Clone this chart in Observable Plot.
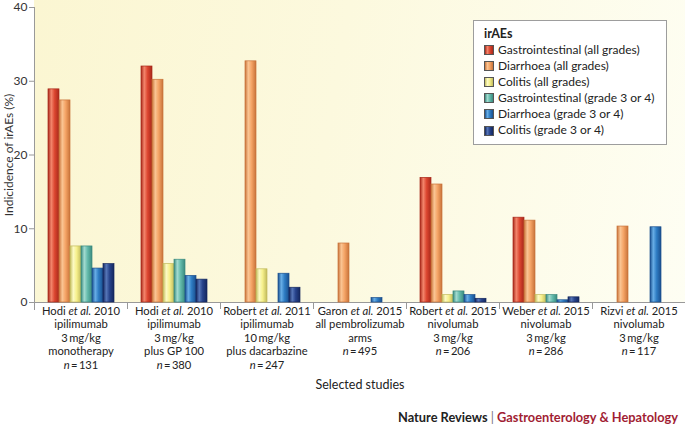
<!DOCTYPE html>
<html><head><meta charset="utf-8">
<script src="https://cdn.jsdelivr.net/npm/d3@7"></script>
<script src="https://cdn.jsdelivr.net/npm/@observablehq/plot@0.6"></script>
<style>
body{margin:0;background:#fff;font-family:Lato,sans-serif;}
#wrap{position:relative;width:685px;height:435px;overflow:hidden;}
#legend{position:absolute;left:473px;top:20px;width:194px;height:125px;border:1px solid #9d9d9d;background:#fff;box-sizing:border-box;padding:5px 0 0 10px;font-size:12px;color:#222;}
#legend .t{font-weight:bold;font-size:12.5px;height:16px;line-height:16px;}
#legend .i{height:16.1px;line-height:16.1px;white-space:nowrap;display:flex;align-items:center;}
#legend .s{width:10px;height:10px;margin-right:4px;box-sizing:border-box;border:0.6px solid #555;}
#footer{position:absolute;right:7px;top:409px;font-weight:bold;font-size:12.8px;color:#222;white-space:nowrap;}
#footer .j{color:#a11d33;}
#footer .bar{color:#777;font-weight:normal;}
</style></head>
<body><div id="wrap"><div id="chart"></div><div id="legend"></div>
<div id="footer">Nature Reviews <span class="bar">|</span> <span class="j">Gastroenterology &amp; Hepatology</span></div></div>
<script>
const groups = ["g1","g2","g3","g4","g5","g6","g7"];
const groupLabels = [
  "Hodi et al. 2010\nipilimumab\n3\u2009mg/kg\nmonotherapy\nn\u2009=\u2009131",
  "Hodi et al. 2010\nipilimumab\n3\u2009mg/kg\nplus GP 100\nn\u2009=\u2009380",
  "Robert et al. 2011\nipilimumab\n10\u2009mg/kg\nplus dacarbazine\nn\u2009=\u2009247",
  "Garon et al. 2015\nall pembrolizumab\narms\nn\u2009=\u2009495",
  "Robert et al. 2015\nnivolumab\n3\u2009mg/kg\nn\u2009=\u2009206",
  "Weber et al. 2015\nnivolumab\n3\u2009mg/kg\nn\u2009=\u2009286",
  "Rizvi et al. 2015\nnivolumab\n3\u2009mg/kg\nn\u2009=\u2009117"
];
const series = ["Gastrointestinal (all grades)","Diarrhoea (all grades)","Colitis (all grades)","Gastrointestinal (grade 3 or 4)","Diarrhoea (grade 3 or 4)","Colitis (grade 3 or 4)"];
const giAll      = [28.9, 32.0, null, null, 16.9, 11.5, null];
const diarrAll   = [27.4, 30.2, 32.7, 8.0, 16.0, 11.1, 10.3];
const colitisAll = [7.6, 5.2, 4.5, null, 1.0, 1.0, null];
const gi34       = [7.6, 5.8, null, null, 1.5, 1.0, null];
const diarr34    = [4.6, 3.6, 3.9, 0.6, 1.0, 0.3, 10.2];
const colitis34  = [5.2, 3.1, 2.0, null, 0.5, 0.7, null];
const yTicks = [0, 10, 20, 30, 40];

const values = [giAll, diarrAll, colitisAll, gi34, diarr34, colitis34];
const baseColors  = ["#dc4630","#f4a365","#f6f08c","#63baab","#2e7cc3","#27438b"];
const lightColors = ["#f3866c","#fac594","#fcfac4","#a3dbd0","#68aee6","#5676b8"];
const darkColors  = ["#a8281a","#c8733a","#c2bb5c","#3a8a7e","#1a4f8e","#14275e"];

const rows = [];
series.forEach((s, i) => groups.forEach((g, j) => {
  if (values[i][j] != null) rows.push({series: s, si: i, group: g, value: values[i][j]});
}));

const W = 685, H = 405, ML = 34, MR = 0, MT = 7, MB = 103;

const svg = Plot.plot({
  width: W, height: H, marginLeft: ML, marginRight: MR, marginTop: MT, marginBottom: MB,
  style: {fontFamily: "Lato, sans-serif", fontSize: "11.2px", color: "#222"},
  fx: {domain: groups, paddingInner: 0, paddingOuter: 0},
  x: {domain: series, paddingInner: 0, paddingOuter: 0.93, axis: null},
  y: {domain: [0, 40], axis: null},
  marks: [
    Plot.ruleY([0], {stroke: "#999", strokeWidth: 1}),
    Plot.frame({anchor: "left", stroke: "#999", insetTop: H - MT - MB, insetBottom: -6}),
    ...series.map((s, i) => Plot.barY(rows.filter(r => r.si === i), {
      fx: "group", x: "series", y: "value",
      fill: `url(#g${i})`, stroke: darkColors[i], strokeWidth: 0.7
    })),
    Plot.axisY({ticks: yTicks, tickSize: 5, tickPadding: 2, stroke: "#999", fill: "#333",
      label: "Indicidence of irAEs (%)", labelAnchor: "center", labelArrow: "none", labelOffset: 30, fontSize: 12}),
    Plot.axisFx({anchor: "bottom", tickSize: 0, tickPadding: 3, lineHeight: 1.2, fontSize: 11.2, fill: "#222",
      tickFormat: g => groupLabels[groups.indexOf(g)], label: null}),
    Plot.axisFx({anchor: "bottom", ticks: [], label: "Selected studies", labelAnchor: "center",
      labelOffset: 86, fontSize: 12.5, fill: "#222"})
  ]
});

const root = d3.select(svg);
const defs = root.insert("defs", ":first-child");
baseColors.forEach((c, i) => {
  const lg = defs.append("linearGradient").attr("id", "g" + i).attr("x1", 0).attr("x2", 1).attr("y1", 0).attr("y2", 0);
  [[0, darkColors[i]], [0.3, lightColors[i]], [0.6, c], [1, darkColors[i]]].forEach(([o, col]) =>
    lg.append("stop").attr("offset", o).attr("stop-color", col));
});
// y axis line
root.append("line").attr("x1", ML + 0.5).attr("x2", ML + 0.5).attr("y1", MT).attr("y2", H - MB + 8)
  .attr("stroke", "#999");
svg.style.background = "linear-gradient(100deg, #fbf6d2 0%, #fcf9de 45%, #fefef3 100%) no-repeat";
svg.style.backgroundPosition = `${ML}px 0px`;
svg.style.backgroundSize = `${W - ML - MR}px ${H - MB}px`;

// italics for "et al." and "n"
function italicize(node) {
  const txt = node.textContent;
  let parts = null;
  if (txt.includes("et al.")) {
    const [a, b] = txt.split("et al.");
    parts = [[a, false], ["et al.", true], [b, false]];
  } else if (/^n\u2009=/.test(txt)) {
    parts = [["n", true], [txt.slice(1), false]];
  }
  if (!parts) return;
  node.textContent = "";
  parts.forEach(([t, it]) => {
    const ts = document.createElementNS("http://www.w3.org/2000/svg", "tspan");
    if (it) ts.setAttribute("font-style", "italic");
    ts.textContent = t;
    node.appendChild(ts);
  });
}
svg.querySelectorAll("tspan").forEach(italicize);

document.getElementById("chart").appendChild(svg);

const leg = document.getElementById("legend");
leg.innerHTML = `<div class="t">irAEs</div>` + series.map((s, i) =>
  `<div class="i"><span class="s" style="background:linear-gradient(90deg, ${darkColors[i]} 0%, ${lightColors[i]} 30%, ${baseColors[i]} 60%, ${darkColors[i]} 100%)"></span>${s}</div>`).join("");
</script></body></html>
